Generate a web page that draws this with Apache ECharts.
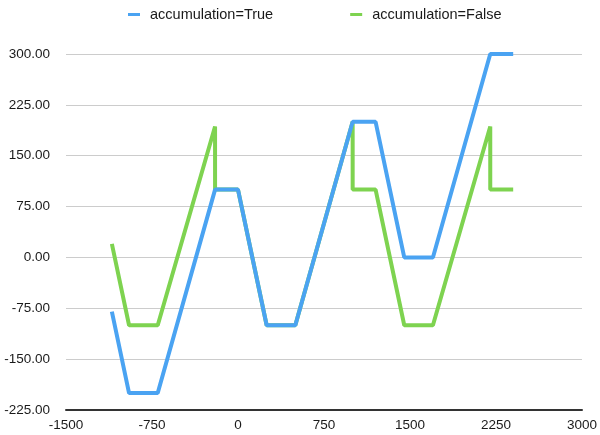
<!DOCTYPE html>
<html>
<head>
<meta charset="utf-8">
<script src="https://cdn.jsdelivr.net/npm/echarts@6/dist/echarts.min.js"></script>
<style>
html,body{margin:0;padding:0;background:#fff;}
#chart{width:600px;height:435px;}
</style>
</head>
<body>
<div id="chart"></div>
<script>
const seriesNames = ['accumulation=True', 'accumulation=False'];
const trueX = [-1100, -950, -700, -200, 0, 250, 500, 1000, 1200, 1450, 1700, 2200, 2400];
const trueY = [-80, -200, -200, 100, 100, -100, -100, 200, 200, 0, 0, 300, 300];
const falseX = [-1100, -950, -700, -200, -200, 0, 250, 500, 1000, 1000, 1200, 1450, 1700, 2200, 2200, 2400];
const falseY = [20, -100, -100, 193, 100, 100, -100, -100, 200, 100, 100, -100, -100, 193, 100, 100];
const xTicks = [-1500, 3000, 750];
const yTicks = [-225, 300, 75];

const pair = (xs, ys) => xs.map((x, i) => [x, ys[i]]);
const font = 'Liberation Sans, Arial, sans-serif';

const chart = echarts.init(document.getElementById('chart'), null, {renderer: 'canvas'});
chart.setOption({
  animation: false,
  color: ['#4AA3F2', '#7ED350'],
  legend: {
    top: 2,
    left: 123,
    itemGap: 77,
    itemWidth: 12,
    itemHeight: 3,
    icon: 'rect',
    textStyle: {fontFamily: font, fontSize: 14.5, color: '#1a1a1a', padding: [0, 0, 0, 5]},
    data: seriesNames
  },
  grid: {left: 66, right: 17, top: 54, bottom: 25, containLabel: false},
  xAxis: {
    type: 'value',
    min: xTicks[0], max: xTicks[1], interval: xTicks[2],
    axisLine: {show: true, onZero: false, lineStyle: {color: '#333', width: 2}},
    axisTick: {show: false},
    splitLine: {show: false},
    axisLabel: {fontFamily: font, fontSize: 13.5, color: '#1a1a1a', margin: 8,
      formatter: v => String(v)}
  },
  yAxis: {
    type: 'value',
    min: yTicks[0], max: yTicks[1], interval: yTicks[2],
    axisLine: {show: false},
    axisTick: {show: false},
    splitLine: {lineStyle: {color: '#cccccc', width: 1}},
    axisLabel: {fontFamily: font, fontSize: 13.5, color: '#1a1a1a', margin: 16,
      formatter: v => v.toFixed(2)}
  },
  series: [
    {name: seriesNames[0], type: 'line', z: 3, showSymbol: false, symbol: 'none',
     lineStyle: {width: 4}, data: pair(trueX, trueY)},
    {name: seriesNames[1], type: 'line', z: 2, showSymbol: false, symbol: 'none',
     lineStyle: {width: 4}, data: pair(falseX, falseY)}
  ]
});
</script>
</body>
</html>
